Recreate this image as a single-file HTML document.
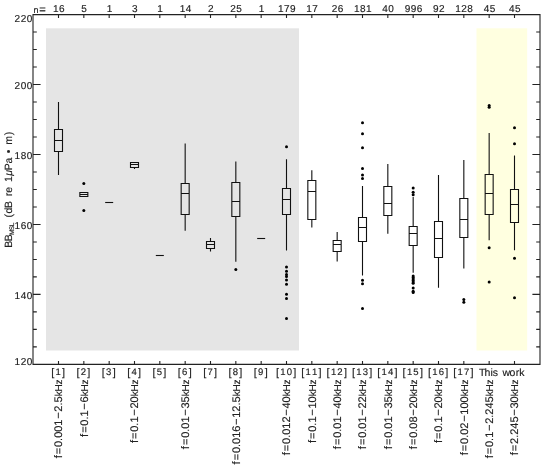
<!DOCTYPE html>
<html><head><meta charset="utf-8"><title>Box plot</title>
<style>html,body{margin:0;padding:0;background:#fff;width:550px;height:467px;overflow:hidden}svg{display:block}</style>
</head><body><svg width="550" height="467" viewBox="0 0 550 467"><rect x="46" y="28.3" width="253" height="322.2" fill="#e5e5e5"/><rect x="476.5" y="28.3" width="50.67" height="322.2" fill="#ffffe0"/><circle cx="83.84" cy="183.6" r="1.5" fill="#000"/><circle cx="83.84" cy="210.5" r="1.5" fill="#000"/><circle cx="235.83" cy="269.5" r="1.5" fill="#000"/><circle cx="286.5" cy="146.7" r="1.5" fill="#000"/><circle cx="286.5" cy="266.9" r="1.5" fill="#000"/><circle cx="286.5" cy="271.2" r="1.5" fill="#000"/><circle cx="286.5" cy="274.4" r="1.5" fill="#000"/><circle cx="286.5" cy="276.6" r="1.5" fill="#000"/><circle cx="286.5" cy="280" r="1.5" fill="#000"/><circle cx="286.5" cy="284.2" r="1.5" fill="#000"/><circle cx="286.5" cy="294.3" r="1.5" fill="#000"/><circle cx="286.5" cy="298.4" r="1.5" fill="#000"/><circle cx="286.5" cy="318.4" r="1.5" fill="#000"/><circle cx="362.5" cy="122.7" r="1.5" fill="#000"/><circle cx="362.5" cy="133.8" r="1.5" fill="#000"/><circle cx="362.5" cy="147.7" r="1.5" fill="#000"/><circle cx="362.5" cy="168.6" r="1.5" fill="#000"/><circle cx="362.5" cy="175" r="1.5" fill="#000"/><circle cx="362.5" cy="178.6" r="1.5" fill="#000"/><circle cx="362.5" cy="280.3" r="1.5" fill="#000"/><circle cx="362.5" cy="283.7" r="1.5" fill="#000"/><circle cx="362.5" cy="308.6" r="1.5" fill="#000"/><circle cx="413.17" cy="188.1" r="1.5" fill="#000"/><circle cx="413.17" cy="192.3" r="1.5" fill="#000"/><circle cx="413.17" cy="194.7" r="1.5" fill="#000"/><circle cx="413.17" cy="276" r="1.5" fill="#000"/><circle cx="413.17" cy="277.5" r="1.5" fill="#000"/><circle cx="413.17" cy="279" r="1.5" fill="#000"/><circle cx="413.17" cy="280.5" r="1.5" fill="#000"/><circle cx="413.17" cy="282" r="1.5" fill="#000"/><circle cx="413.17" cy="283.3" r="1.5" fill="#000"/><circle cx="413.17" cy="288" r="1.5" fill="#000"/><circle cx="413.17" cy="291.3" r="1.5" fill="#000"/><circle cx="413.17" cy="292.6" r="1.5" fill="#000"/><circle cx="463.83" cy="299.5" r="1.5" fill="#000"/><circle cx="463.83" cy="302.3" r="1.5" fill="#000"/><circle cx="489.16" cy="105.5" r="1.5" fill="#000"/><circle cx="489.16" cy="107.3" r="1.5" fill="#000"/><circle cx="489.16" cy="247.7" r="1.5" fill="#000"/><circle cx="489.16" cy="282" r="1.5" fill="#000"/><circle cx="514.5" cy="127.8" r="1.5" fill="#000"/><circle cx="514.5" cy="143.8" r="1.5" fill="#000"/><circle cx="514.5" cy="258.3" r="1.5" fill="#000"/><circle cx="514.5" cy="297.7" r="1.5" fill="#000"/><g fill="none" stroke="#111" stroke-width="1.1"><path d="M54.5 129.5H62.5V151.5H54.5Z M54.5 140.5H62.5 M58.5 101.9V129.5 M58.5 151.5V175"/><path d="M79.84 192.5H87.84V196.5H79.84Z M79.84 194.5H87.84"/><path d="M105.17 202.5H113.17"/><path d="M130.5 162.5H138.5V167.5H130.5Z M130.5 164.5H138.5 M134.5 167.5V168.9"/><path d="M155.83 255.5H163.83"/><path d="M181.17 183.5H189.17V214.5H181.17Z M181.17 193.5H189.17 M185.17 143.6V183.5 M185.17 214.5V230.7"/><path d="M206.5 241.5H214.5V248.5H206.5Z M206.5 244.5H214.5 M210.5 238V241.5 M210.5 248.5V251.6"/><path d="M231.83 182.5H239.83V216.5H231.83Z M231.83 201.5H239.83 M235.83 161.4V182.5 M235.83 216.5V261.7"/><path d="M257.17 238.5H265.17"/><path d="M282.5 188.5H290.5V214.5H282.5Z M282.5 199.5H290.5 M286.5 159.3V188.5 M286.5 214.5V250.4"/><path d="M307.83 180.5H315.83V219.5H307.83Z M307.83 191.5H315.83 M311.83 170.2V180.5 M311.83 219.5V227.5"/><path d="M333.17 240.5H341.17V251.5H333.17Z M333.17 244.5H341.17 M337.17 232V240.5 M337.17 251.5V261.5"/><path d="M358.5 217.5H366.5V241.5H358.5Z M358.5 227.5H366.5 M362.5 186.1V217.5 M362.5 241.5V275.6"/><path d="M383.83 186.5H391.83V215.5H383.83Z M383.83 203.5H391.83 M387.83 164.1V186.5 M387.83 215.5V233.7"/><path d="M409.17 226.5H417.17V245.5H409.17Z M409.17 233.5H417.17 M413.17 197.1V226.5 M413.17 245.5V272.7"/><path d="M434.5 221.5H442.5V257.5H434.5Z M434.5 238.5H442.5 M438.5 175.1V221.5 M438.5 257.5V287.8"/><path d="M459.83 198.5H467.83V237.5H459.83Z M459.83 219.5H467.83 M463.83 159.9V198.5 M463.83 237.5V268.5"/><path d="M485.16 174.5H493.16V214.5H485.16Z M485.16 193.5H493.16 M489.16 133V174.5 M489.16 214.5V240.2"/><path d="M510.5 189.5H518.5V222.5H510.5Z M510.5 204.5H518.5 M514.5 155.6V189.5 M514.5 222.5V250.2"/></g><path d="M33.0 14.6H540.0V364.4H33.0ZM58.5 364.4v-3.3M58.5 14.6v3.5M83.84 364.4v-3.3M83.84 14.6v3.5M109.17 364.4v-3.3M109.17 14.6v3.5M134.5 364.4v-3.3M134.5 14.6v3.5M159.83 364.4v-3.3M159.83 14.6v3.5M185.17 364.4v-3.3M185.17 14.6v3.5M210.5 364.4v-3.3M210.5 14.6v3.5M235.83 364.4v-3.3M235.83 14.6v3.5M261.17 364.4v-3.3M261.17 14.6v3.5M286.5 364.4v-3.3M286.5 14.6v3.5M311.83 364.4v-3.3M311.83 14.6v3.5M337.17 364.4v-3.3M337.17 14.6v3.5M362.5 364.4v-3.3M362.5 14.6v3.5M387.83 364.4v-3.3M387.83 14.6v3.5M413.17 364.4v-3.3M413.17 14.6v3.5M438.5 364.4v-3.3M438.5 14.6v3.5M463.83 364.4v-3.3M463.83 14.6v3.5M489.16 364.4v-3.3M489.16 14.6v3.5M514.5 364.4v-3.3M514.5 14.6v3.5M33.0 364.4h7.6M540.0 364.4h-7.6M33.0 346.9h3.8M540.0 346.9h-3.8M33.0 329.41h3.8M540.0 329.41h-3.8M33.0 311.91h3.8M540.0 311.91h-3.8M33.0 294.42h7.6M540.0 294.42h-7.6M33.0 276.92h3.8M540.0 276.92h-3.8M33.0 259.43h3.8M540.0 259.43h-3.8M33.0 241.93h3.8M540.0 241.93h-3.8M33.0 224.44h7.6M540.0 224.44h-7.6M33.0 206.94h3.8M540.0 206.94h-3.8M33.0 189.45h3.8M540.0 189.45h-3.8M33.0 171.95h3.8M540.0 171.95h-3.8M33.0 154.46h7.6M540.0 154.46h-7.6M33.0 136.96h3.8M540.0 136.96h-3.8M33.0 119.47h3.8M540.0 119.47h-3.8M33.0 101.97h3.8M540.0 101.97h-3.8M33.0 84.48h7.6M540.0 84.48h-7.6M33.0 66.98h3.8M540.0 66.98h-3.8M33.0 49.49h3.8M540.0 49.49h-3.8M33.0 31.99h3.8M540.0 31.99h-3.8M33.0 14.5h7.6M540.0 14.5h-7.6" fill="none" stroke="#222" stroke-width="1.1"/><g style="font-family:'Liberation Sans',sans-serif;font-size:10px;text-rendering:geometricPrecision" fill="#222" stroke="#222" stroke-width="0.15"><text x="17.35 23.45 29.55" y="364.9" text-anchor="middle">120</text><text x="17.35 23.45 29.55" y="299.42" text-anchor="middle">140</text><text x="17.35 23.45 29.55" y="229.44" text-anchor="middle">160</text><text x="17.35 23.45 29.55" y="159.46" text-anchor="middle">180</text><text x="17.35 23.45 29.55" y="89.48" text-anchor="middle">200</text><text x="17.35 23.45 29.55" y="21.5" text-anchor="middle">220</text><text x="36" y="12.6" text-anchor="middle" style="font-size:9px">n</text><text x="42.6" y="12.7" text-anchor="middle" style="font-size:11.2px">=</text><text x="55.8 61.8" y="11.8" text-anchor="middle" style="font-size:10px">16</text><text x="84.14" y="11.8" text-anchor="middle" style="font-size:10px">5</text><text x="109.47" y="11.8" text-anchor="middle" style="font-size:10px">1</text><text x="134.8" y="11.8" text-anchor="middle" style="font-size:10px">3</text><text x="160.13" y="11.8" text-anchor="middle" style="font-size:10px">1</text><text x="182.47 188.47" y="11.8" text-anchor="middle" style="font-size:10px">14</text><text x="210.8" y="11.8" text-anchor="middle" style="font-size:10px">2</text><text x="233.13 239.13" y="11.8" text-anchor="middle" style="font-size:10px">25</text><text x="261.47" y="11.8" text-anchor="middle" style="font-size:10px">1</text><text x="280.8 286.8 292.8" y="11.8" text-anchor="middle" style="font-size:10px">179</text><text x="309.13 315.13" y="11.8" text-anchor="middle" style="font-size:10px">17</text><text x="334.47 340.47" y="11.8" text-anchor="middle" style="font-size:10px">26</text><text x="356.8 362.8 368.8" y="11.8" text-anchor="middle" style="font-size:10px">181</text><text x="385.13 391.13" y="11.8" text-anchor="middle" style="font-size:10px">40</text><text x="407.47 413.47 419.47" y="11.8" text-anchor="middle" style="font-size:10px">996</text><text x="435.8 441.8" y="11.8" text-anchor="middle" style="font-size:10px">92</text><text x="458.13 464.13 470.13" y="11.8" text-anchor="middle" style="font-size:10px">128</text><text x="486.46 492.46" y="11.8" text-anchor="middle" style="font-size:10px">45</text><text x="511.8 517.8" y="11.8" text-anchor="middle" style="font-size:10px">45</text><text x="52.66 63.54" y="375.6" text-anchor="middle" style="font-size:11px">[]</text><text x="58.1" y="375.1" text-anchor="middle" style="font-size:9.5px">1</text><text x="78 88.88" y="375.6" text-anchor="middle" style="font-size:11px">[]</text><text x="83.44" y="375.1" text-anchor="middle" style="font-size:9.5px">2</text><text x="103.33 114.21" y="375.6" text-anchor="middle" style="font-size:11px">[]</text><text x="108.77" y="375.1" text-anchor="middle" style="font-size:9.5px">3</text><text x="128.66 139.54" y="375.6" text-anchor="middle" style="font-size:11px">[]</text><text x="134.1" y="375.1" text-anchor="middle" style="font-size:9.5px">4</text><text x="153.99 164.87" y="375.6" text-anchor="middle" style="font-size:11px">[]</text><text x="159.43" y="375.1" text-anchor="middle" style="font-size:9.5px">5</text><text x="179.33 190.21" y="375.6" text-anchor="middle" style="font-size:11px">[]</text><text x="184.77" y="375.1" text-anchor="middle" style="font-size:9.5px">6</text><text x="204.66 215.54" y="375.6" text-anchor="middle" style="font-size:11px">[]</text><text x="210.1" y="375.1" text-anchor="middle" style="font-size:9.5px">7</text><text x="229.99 240.87" y="375.6" text-anchor="middle" style="font-size:11px">[]</text><text x="235.43" y="375.1" text-anchor="middle" style="font-size:9.5px">8</text><text x="255.33 266.21" y="375.6" text-anchor="middle" style="font-size:11px">[]</text><text x="260.77" y="375.1" text-anchor="middle" style="font-size:9.5px">9</text><text x="277.46 294.74" y="375.6" text-anchor="middle" style="font-size:11px">[]</text><text x="282.9 289.3" y="375.1" text-anchor="middle" style="font-size:9.5px">10</text><text x="302.79 320.07" y="375.6" text-anchor="middle" style="font-size:11px">[]</text><text x="308.23 314.63" y="375.1" text-anchor="middle" style="font-size:9.5px">11</text><text x="328.13 345.41" y="375.6" text-anchor="middle" style="font-size:11px">[]</text><text x="333.57 339.97" y="375.1" text-anchor="middle" style="font-size:9.5px">12</text><text x="353.46 370.74" y="375.6" text-anchor="middle" style="font-size:11px">[]</text><text x="358.9 365.3" y="375.1" text-anchor="middle" style="font-size:9.5px">13</text><text x="378.79 396.07" y="375.6" text-anchor="middle" style="font-size:11px">[]</text><text x="384.23 390.63" y="375.1" text-anchor="middle" style="font-size:9.5px">14</text><text x="404.13 421.41" y="375.6" text-anchor="middle" style="font-size:11px">[]</text><text x="409.57 415.97" y="375.1" text-anchor="middle" style="font-size:9.5px">15</text><text x="429.46 446.74" y="375.6" text-anchor="middle" style="font-size:11px">[]</text><text x="434.9 441.3" y="375.1" text-anchor="middle" style="font-size:9.5px">16</text><text x="454.79 472.07" y="375.6" text-anchor="middle" style="font-size:11px">[]</text><text x="460.23 466.63" y="375.1" text-anchor="middle" style="font-size:9.5px">17</text><text x="482.15 487.49 491.61 495.42 500.45 506.25 512.5 517.38 521.96" y="375.5" text-anchor="middle" style="font-size:10.5px">This work</text><text x="-77.47 -71.67 -64.66 -60.08 -55.51 -49.41 -43.31 -36.29 -29.28 -24.7 -20.13" y="0" text-anchor="middle" transform="translate(62.2 379.3) rotate(-90)" style="font-size:11px">f=0.001−2.5</text><text x="-14.49 -8.54 -2.59" y="0" text-anchor="middle" transform="translate(62.2 379.3) rotate(-90)" style="font-size:10px">kHz</text><text x="-56.12 -50.32 -43.31 -38.73 -34.16 -27.14 -20.13" y="0" text-anchor="middle" transform="translate(87.54 379.3) rotate(-90)" style="font-size:11px">f=0.1−6</text><text x="-14.49 -8.54 -2.59" y="0" text-anchor="middle" transform="translate(87.54 379.3) rotate(-90)" style="font-size:10px">kHz</text><text x="-62.22 -56.42 -49.41 -44.83 -40.26 -33.24 -26.23 -20.13" y="0" text-anchor="middle" transform="translate(138.2 379.3) rotate(-90)" style="font-size:11px">f=0.1−20</text><text x="-14.49 -8.54 -2.59" y="0" text-anchor="middle" transform="translate(138.2 379.3) rotate(-90)" style="font-size:10px">kHz</text><text x="-68.32 -62.52 -55.51 -50.93 -46.36 -40.26 -33.24 -26.23 -20.13" y="0" text-anchor="middle" transform="translate(188.87 379.3) rotate(-90)" style="font-size:11px">f=0.01−35</text><text x="-14.49 -8.54 -2.59" y="0" text-anchor="middle" transform="translate(188.87 379.3) rotate(-90)" style="font-size:10px">kHz</text><text x="-83.57 -77.77 -70.76 -66.18 -61.61 -55.51 -49.41 -42.39 -35.38 -29.28 -24.7 -20.13" y="0" text-anchor="middle" transform="translate(239.53 379.3) rotate(-90)" style="font-size:11px">f=0.016−12.5</text><text x="-14.49 -8.54 -2.59" y="0" text-anchor="middle" transform="translate(239.53 379.3) rotate(-90)" style="font-size:10px">kHz</text><text x="-74.42 -68.62 -61.61 -57.03 -52.46 -46.36 -40.26 -33.24 -26.23 -20.13" y="0" text-anchor="middle" transform="translate(290.2 379.3) rotate(-90)" style="font-size:11px">f=0.012−40</text><text x="-14.49 -8.54 -2.59" y="0" text-anchor="middle" transform="translate(290.2 379.3) rotate(-90)" style="font-size:10px">kHz</text><text x="-62.22 -56.42 -49.41 -44.83 -40.26 -33.24 -26.23 -20.13" y="0" text-anchor="middle" transform="translate(315.53 379.3) rotate(-90)" style="font-size:11px">f=0.1−10</text><text x="-14.49 -8.54 -2.59" y="0" text-anchor="middle" transform="translate(315.53 379.3) rotate(-90)" style="font-size:10px">kHz</text><text x="-68.32 -62.52 -55.51 -50.93 -46.36 -40.26 -33.24 -26.23 -20.13" y="0" text-anchor="middle" transform="translate(340.87 379.3) rotate(-90)" style="font-size:11px">f=0.01−40</text><text x="-14.49 -8.54 -2.59" y="0" text-anchor="middle" transform="translate(340.87 379.3) rotate(-90)" style="font-size:10px">kHz</text><text x="-68.32 -62.52 -55.51 -50.93 -46.36 -40.26 -33.24 -26.23 -20.13" y="0" text-anchor="middle" transform="translate(366.2 379.3) rotate(-90)" style="font-size:11px">f=0.01−22</text><text x="-14.49 -8.54 -2.59" y="0" text-anchor="middle" transform="translate(366.2 379.3) rotate(-90)" style="font-size:10px">kHz</text><text x="-68.32 -62.52 -55.51 -50.93 -46.36 -40.26 -33.24 -26.23 -20.13" y="0" text-anchor="middle" transform="translate(391.53 379.3) rotate(-90)" style="font-size:11px">f=0.01−35</text><text x="-14.49 -8.54 -2.59" y="0" text-anchor="middle" transform="translate(391.53 379.3) rotate(-90)" style="font-size:10px">kHz</text><text x="-68.32 -62.52 -55.51 -50.93 -46.36 -40.26 -33.24 -26.23 -20.13" y="0" text-anchor="middle" transform="translate(416.87 379.3) rotate(-90)" style="font-size:11px">f=0.08−20</text><text x="-14.49 -8.54 -2.59" y="0" text-anchor="middle" transform="translate(416.87 379.3) rotate(-90)" style="font-size:10px">kHz</text><text x="-62.22 -56.42 -49.41 -44.83 -40.26 -33.24 -26.23 -20.13" y="0" text-anchor="middle" transform="translate(442.2 379.3) rotate(-90)" style="font-size:11px">f=0.1−20</text><text x="-14.49 -8.54 -2.59" y="0" text-anchor="middle" transform="translate(442.2 379.3) rotate(-90)" style="font-size:10px">kHz</text><text x="-74.42 -68.62 -61.61 -57.03 -52.46 -46.36 -39.34 -32.33 -26.23 -20.13" y="0" text-anchor="middle" transform="translate(467.53 379.3) rotate(-90)" style="font-size:11px">f=0.02−100</text><text x="-14.49 -8.54 -2.59" y="0" text-anchor="middle" transform="translate(467.53 379.3) rotate(-90)" style="font-size:10px">kHz</text><text x="-77.47 -71.67 -64.66 -60.08 -55.51 -48.49 -41.48 -36.91 -32.33 -26.23 -20.13" y="0" text-anchor="middle" transform="translate(492.86 379.3) rotate(-90)" style="font-size:11px">f=0.1−2.245</text><text x="-14.49 -8.54 -2.59" y="0" text-anchor="middle" transform="translate(492.86 379.3) rotate(-90)" style="font-size:10px">kHz</text><text x="-74.42 -68.62 -61.61 -57.03 -52.46 -46.36 -40.26 -33.24 -26.23 -20.13" y="0" text-anchor="middle" transform="translate(518.2 379.3) rotate(-90)" style="font-size:11px">f=2.245−30</text><text x="-14.49 -8.54 -2.59" y="0" text-anchor="middle" transform="translate(518.2 379.3) rotate(-90)" style="font-size:10px">kHz</text><text x="-244.2 -237.79" y="0" text-anchor="middle" transform="translate(11.5 0) rotate(-90)" style="font-size:10.5px;">BB</text><text x="-232.25 -227.95 -224.34" y="2.7" text-anchor="middle" transform="translate(11.5 0) rotate(-90)" style="font-size:6.6px;">MSL</text><text x="-215.67 -210.64 -204.54 -198.89 -194.47 -189.74 -184.56 -179.07" y="0" text-anchor="middle" transform="translate(11.5 0) rotate(-90)" style="font-size:10.5px;">(dB re 1</text><text x="-172.97" y="0" text-anchor="middle" transform="translate(11.5 0) rotate(-90)" style="font-size:10.5px;font-style:italic">μ</text><text x="-166.72 -160.62 -155.28 -151.31 -147.35 -140.33 -133.62" y="0" text-anchor="middle" transform="translate(11.5 0) rotate(-90)" style="font-size:10.5px;">Pa • m)</text></g></svg></body></html>
